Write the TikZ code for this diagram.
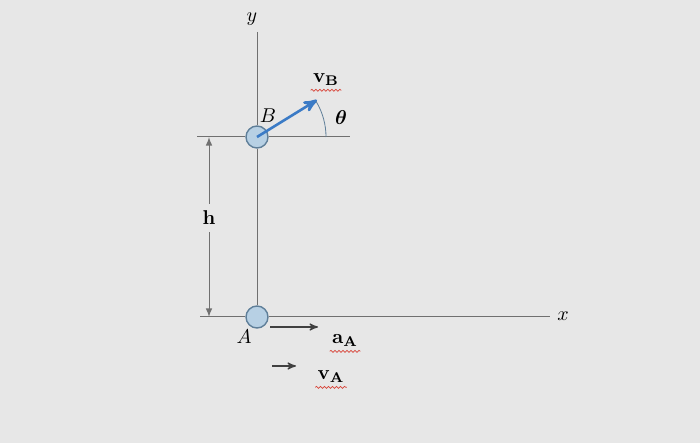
\documentclass[tikz,border=0pt]{standalone}
\usepackage{amsmath}
\usepackage{amssymb}
\usepackage{bm}
\usepackage{tikz}
\usetikzlibrary{arrows}
\usetikzlibrary{decorations.pathmorphing}
\usetikzlibrary{positioning}
\definecolor{paper}{HTML}{E7E7E7}
\definecolor{axisgray}{HTML}{707070}
\definecolor{ballfill}{HTML}{B7D0E4}
\definecolor{balledge}{HTML}{5F7F99}
\definecolor{vecblue}{HTML}{3B7BC6}
\definecolor{squiggle}{HTML}{D8453A}
\tikzset{ball/.style = {circle, draw=balledge, fill=ballfill, line width=0.7pt, inner sep=0, minimum size=11pt}}
\tikzset{axisline/.style = {draw=axisgray, line width=0.5pt}}
\tikzset{veclabel/.style = {inner sep=1pt, font=\bfseries}}
\tikzset{spell/.style = {draw=squiggle, line width=0.35pt, decorate, decoration={snake, amplitude=0.5pt, segment length=2pt}}}

\begin{document}
\begin{tikzpicture}[x=0.5pt, y=0.5pt]
    \fill [paper] (0, 0) rectangle (700, 443);
    \useasboundingbox (0, 0) rectangle (700, 443);

    \node [ball] (ballB) at (257, 306) {};
    \node [ball] (ballA) at (257, 126) {};

    \coordinate (yTop) at (257, 411);
    \coordinate (xLeft) at (200, 126);
    \coordinate (xEnd) at (550, 126);
    \coordinate (bLeft) at (197, 306);
    \coordinate (bRight) at (350, 306);

    \draw [axisline] (yTop) -- (ballB);
    \draw [axisline] (ballB) -- (ballA);
    \draw [axisline] (xLeft) -- (ballA);
    \draw [axisline] (ballA) -- (xEnd);
    \draw [axisline] (bLeft) -- (ballB);
    \draw [axisline] (ballB) -- (bRight);

    \node (yLabel) at (252, 424) {$y$};
    \node (xLabel) at (563, 127) {$x$};

    % height between the two balls
    \node (hLabel) at (209, 225) {$\mathbf{h}$};
    \coordinate (hTop) at (209, 306);
    \coordinate (hBot) at (209, 126);
    \draw [axisline, -latex] (hLabel) -- (hTop);
    \draw [axisline, -latex] (hLabel) -- (hBot);

    % velocity of B
    \coordinate (vbTip) at (317, 343);
    \draw [vecblue, line width=1.3pt, -stealth'] (ballB.center) -- (vbTip);
    \draw [balledge, line width=0.4pt] (326, 306) arc (0:31:69);
    \node [veclabel] (vbLabel) at (326, 363) {$\mathbf{v}_{\mathbf{B}}$};
    \node (thetaLabel) at (341, 325) {$\bm{\theta}$};
    \node (bLabel) at (268, 327) {$B$};

    % motion of A
    \node (aLabel) at (244, 106) {$A$};
    \coordinate (aaStart) at (270, 116);
    \coordinate (aaEnd) at (318, 116);
    \draw [black!75, line width=0.6pt, -stealth'] (aaStart) -- (aaEnd);
    \node [veclabel] (aaLabel) at (345, 102) {$\mathbf{a}_{\mathbf{A}}$};

    \coordinate (vaStart) at (272, 77);
    \coordinate (vaEnd) at (296, 77);
    \draw [black!75, line width=0.6pt, -stealth'] (vaStart) -- (vaEnd);
    \node [veclabel] (vaLabel) at (331, 66) {$\mathbf{v}_{\mathbf{A}}$};

    \draw [spell] ([yshift=-1pt]vbLabel.south west) -- ([yshift=-1pt]vbLabel.south east);
    \draw [spell] ([yshift=-1pt]aaLabel.south west) -- ([yshift=-1pt]aaLabel.south east);
    \draw [spell] ([yshift=-1pt]vaLabel.south west) -- ([yshift=-1pt]vaLabel.south east);

  \end{tikzpicture}
\end{document}
